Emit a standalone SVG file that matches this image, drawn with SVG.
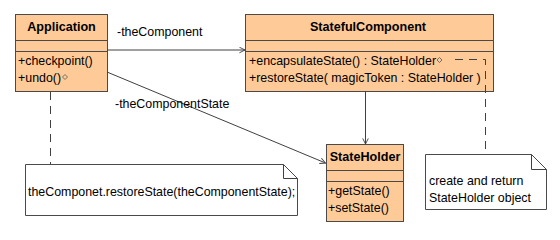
<svg xmlns="http://www.w3.org/2000/svg" width="560" height="240" viewBox="0 0 560 240">
<defs>
<style>
.box{fill:#fecb98;stroke:#4a4a4a;stroke-width:1}
.sep{stroke:#4a4a4a;stroke-width:1}
.note{fill:#ffffff;stroke:#4a4a4a;stroke-width:1}
.t{font-family:"Liberation Sans",Arial,sans-serif;font-size:12.4px;fill:#000}
.b{font-family:"Liberation Sans",Arial,sans-serif;font-size:12.6px;font-weight:bold;fill:#000}
.ln{fill:none;stroke:#404040;stroke-width:1}
.dash{fill:none;stroke:#404040;stroke-width:1;stroke-dasharray:8 6}
.dia{fill:none;stroke:#555;stroke-width:0.8}
</style>
<marker id="open" viewBox="0 0 10 10" refX="9" refY="5" markerWidth="7" markerHeight="7" orient="auto" markerUnits="userSpaceOnUse">
<path d="M1,1 L9,5 L1,9" fill="none" stroke="#404040" stroke-width="1.3"/>
</marker>
</defs>
<rect width="560" height="240" fill="#ffffff"/>
<g id="Application">
<rect class="box" x="15.5" y="14.5" width="92" height="77"/>
<line class="sep" x1="15.5" y1="40.5" x2="107.5" y2="40.5"/>
<line class="sep" x1="15.5" y1="51.5" x2="107.5" y2="51.5"/>
<text class="b" x="61.5" y="31" text-anchor="middle">Application</text>
<text class="t" x="18" y="65">+checkpoint()</text>
<text class="t" x="18" y="82">+undo()</text>
<path class="dia" d="M62.5,77 L65,74.5 L67.5,77 L65,79.5 Z"/>
</g>
<g id="StatefulComponent">
<rect class="box" x="245.5" y="14.5" width="248" height="77"/>
<line class="sep" x1="245.5" y1="40.5" x2="493.5" y2="40.5"/>
<line class="sep" x1="245.5" y1="51.5" x2="493.5" y2="51.5"/>
<text class="b" x="368" y="31" text-anchor="middle">StatefulComponent</text>
<text class="t" x="249" y="65">+encapsulateState() : StateHolder</text>
<text class="t" x="249" y="82">+restoreState( magicToken : StateHolder )</text>
<path class="dia" d="M437,60 L439.5,57.5 L442,60 L439.5,62.5 Z"/>
</g>
<g id="StateHolder">
<rect class="box" x="326.5" y="144.5" width="77" height="77"/>
<line class="sep" x1="326.5" y1="170.5" x2="403.5" y2="170.5"/>
<line class="sep" x1="326.5" y1="181.5" x2="403.5" y2="181.5"/>
<text class="b" x="365" y="161" text-anchor="middle">StateHolder</text>
<text class="t" x="328" y="195">+getState()</text>
<text class="t" x="328" y="212">+setState()</text>
</g>
<g id="note1">
<path class="note" d="M25.5,164.5 L283.5,164.5 L297.5,178.5 L297.5,215.5 L25.5,215.5 Z"/>
<path class="ln" d="M283.5,164.5 L283.5,178.5 L297.5,178.5"/>
<text class="t" x="28" y="196">theComponet.restoreState(theComponentState);</text>
</g>
<g id="note2">
<path class="note" d="M425.5,154.5 L531.5,154.5 L546.5,169.5 L546.5,209.5 L425.5,209.5 Z"/>
<path class="ln" d="M531.5,154.5 L531.5,169.5 L546.5,169.5"/>
<text class="t" x="429" y="185">create and return</text>
<text class="t" x="429" y="202">StateHolder object</text>
</g>
<g id="connectors">
<line class="ln" x1="107" y1="50" x2="245" y2="50" marker-end="url(#open)"/>
<line class="ln" x1="107" y1="72" x2="325.5" y2="163" marker-end="url(#open)"/>
<line class="ln" x1="365.5" y1="91" x2="365.5" y2="144" marker-end="url(#open)"/>
<line class="dash" x1="50.5" y1="92" x2="50.5" y2="164"/>
<polyline class="dash" points="455,59.5 485.5,59.5 485.5,154"/>
<text class="t" x="117" y="36">-theComponent</text>
<text class="t" x="115" y="108">-theComponentState</text>
</g>
</svg>
